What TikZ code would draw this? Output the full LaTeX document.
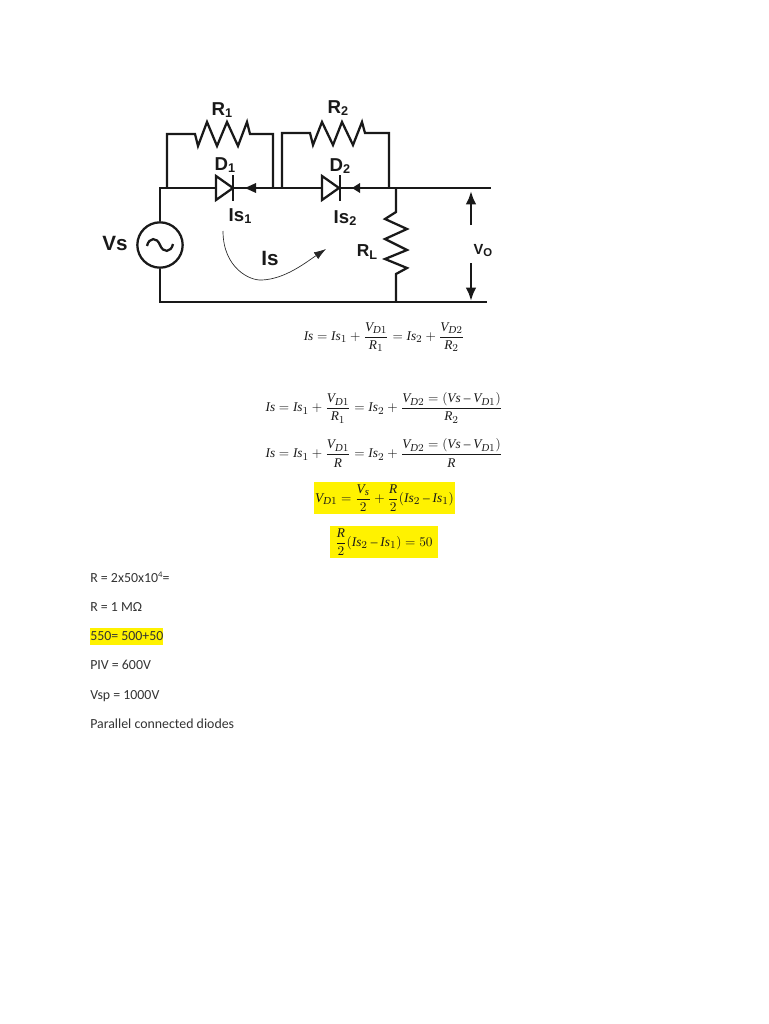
\documentclass[tikz,border=0pt]{standalone}
\usepackage{amsmath}
\usepackage{fontspec}
\setmainfont{Liberation Serif}
\usepackage[italic]{mathastext}
\setmainfont{Carlito}
\newfontfamily\labelfont{Liberation Sans}
\usetikzlibrary{arrows.meta, calc}
\newcommand{\lowidx}[1]{\raisebox{-2pt}{\fontsize{9.5}{10}\selectfont #1}}
\tikzset{
  wire/.style={
    draw=black!90, line width=1.7pt, line join=miter
  },
  diode/.style={
    wire, fill=white
  },
  flowtip/.style={
    -{Latex[length=10pt, width=8pt]}, draw=black!90, line width=2pt
  },
  thinflow/.style={
    -{Latex[length=9pt, width=6pt]}, draw=black!85, line width=0.5pt
  },
  circuitlabel/.style={
    font=\labelfont\bfseries\fontsize{14}{16}\selectfont, text=black!90, inner sep=0pt
  },
  smalllabel/.style={
    font=\labelfont\bfseries\fontsize{11}{13}\selectfont, text=black!90, inner sep=0pt
  },
  eqn/.style={
    font=\fontsize{10}{12}\selectfont, text=black!90, inner sep=0pt
  },
  hilite/.style={
    eqn, fill=yellow, minimum height=24pt
  },
  notes/.style={
    font=\fontsize{10.4}{12}\selectfont, text=black!80, inner sep=0pt, anchor=base west
  }
}

\begin{document}
\begin{tikzpicture}[x=0.75pt, y=-0.75pt]
    \useasboundingbox (0,0) rectangle (768,1024);

    % top rail
    \coordinate (railL) at (160,188);
    \coordinate (railR) at (491,188);
    \coordinate (botL) at (161,302);
    \coordinate (botR) at (487,302);
    \coordinate (rloadT) at (396,188);
    \coordinate (rloadB) at (396,302);
    \node[circle, draw=black!90, line width=1.7pt, minimum size=34pt, inner sep=0pt] (source) at (160,245) {};

    \draw[wire] (source.north) -- (railL) -- (railR);
    \draw[wire] (source.south) -- (source.south |- botL) -- (botR);
    \draw[wire] (147,246) .. controls (149,237) and (157,237) .. (160,245) .. controls (163,253) and (171,253) .. (173,244);

    % R1 with its bypass
    \draw[wire] (167,188) -- (167,134) -- (195,134) -- (198,146) -- (207,122) -- (217,146) -- (227,122) -- (238,146) -- (247,122) -- (250,134) -- (273,134) -- (273,188);
    % R2 with its bypass
    \draw[wire] (282,188) -- (282,133) -- (310,133) -- (313,145) -- (322,122) -- (333,145) -- (342,122) -- (353,145) -- (362,122) -- (365,133) -- (389,133) -- (389,188);

    % diodes
    \draw[diode] (216,176) -- (233,188) -- (216,200) -- cycle;
    \draw[wire] (233,175) -- (233,201);
    \draw[diode] (322,176) -- (339,188) -- (322,200) -- cycle;
    \draw[wire] (340,175) -- (340,201);
    \fill[black!90] (245,188) -- (256,183) -- (256,193) -- cycle;
    \fill[black!90] (352,188) -- (360,183) -- (360,193) -- cycle;

    % load
    \draw[wire] (rloadT) -- (396,212) -- (385,219) -- (407,229) -- (385,239) -- (407,250) -- (385,259) -- (407,268) -- (396,274) -- (rloadB);

    % output arrows
    \coordinate (voTop) at (471,225);
    \coordinate (voTopTip) at (471,191);
    \coordinate (voBot) at (471,263);
    \coordinate (voBotTip) at (471,301);
    \draw[flowtip] (voTop) -- (voTopTip);
    \draw[flowtip] (voBot) -- (voBotTip);

    % current arc
    \coordinate (arcA) at (223,231);
    \coordinate (arcB) at (326,249);
    \draw[thinflow] (arcA) .. controls (223,268) and (250,281) .. (262,280) .. controls (285,279) and (305,263) .. (arcB);

    \node[circuitlabel] (lblRa) at (222,110) {R\lowidx{1}};
    \node[circuitlabel] (lblRb) at (338,108) {R\lowidx{2}};
    \node[circuitlabel] (lblDa) at (225,165) {D\lowidx{1}};
    \node[circuitlabel] (lblDb) at (340,166) {D\lowidx{2}};
    \node[circuitlabel] (lblIa) at (240,216) {Is\lowidx{1}};
    \node[circuitlabel] (lblIb) at (345,218) {Is\lowidx{2}};
    \node[circuitlabel, font=\labelfont\bfseries\fontsize{15.5}{18}\selectfont] (lblVs) at (115,243) {Vs};
    \node[circuitlabel, font=\labelfont\bfseries\fontsize{15.5}{18}\selectfont] (lblIs) at (270,258) {Is};
    \node[circuitlabel, font=\labelfont\bfseries\fontsize{13}{15}\selectfont] (lblRL) at (367,252) {R\lowidx{L}};
    \node[smalllabel] (lblVo) at (483,251) {V\raisebox{-1.5pt}{\fontsize{8.5}{9}\selectfont O}};

    % equations
    \node[eqn] (eqA) at (384,337) {$Is = Is_1 + \dfrac{V_{D1}}{R_1} = Is_2 + \dfrac{V_{D2}}{R_2}$};
    \node[eqn] (eqB) at (384,408) {$Is = Is_1 + \dfrac{V_{D1}}{R_1} = Is_2 + \dfrac{V_{D2} = (Vs - V_{D1})}{R_2}$};
    \node[eqn] (eqC) at (384,453) {$Is = Is_1 + \dfrac{V_{D1}}{R} = Is_2 + \dfrac{V_{D2} = (Vs - V_{D1})}{R}$};
    \node[hilite, minimum width=105.75pt] (eqD) at (384.5,498) {$V_{D1} = \dfrac{V_s}{2} + \dfrac{R}{2}(Is_2 - Is_1)$};
    \node[hilite, minimum width=81pt] (eqE) at (384,542) {$\dfrac{R}{2}(Is_2 - Is_1) = 50$};

    % notes
    \node[notes] (noteA) at (90,582) {R = 2x50x10\raisebox{3.5pt}{\fontsize{6.5}{7}\selectfont 4}=};
    \node[notes] (noteB) at (90,611) {R = 1 MΩ};
    \node[notes, fill=yellow, text height=9pt, text depth=3.75pt, minimum width=54.75pt] (noteC) at (90,640) {550= 500+50};
    \node[notes] (noteD) at (90,669) {PIV = 600V};
    \node[notes] (noteE) at (90,699) {Vsp = 1000V};
    \node[notes] (noteF) at (90,728) {Parallel connected diodes};
\end{tikzpicture}
\end{document}
